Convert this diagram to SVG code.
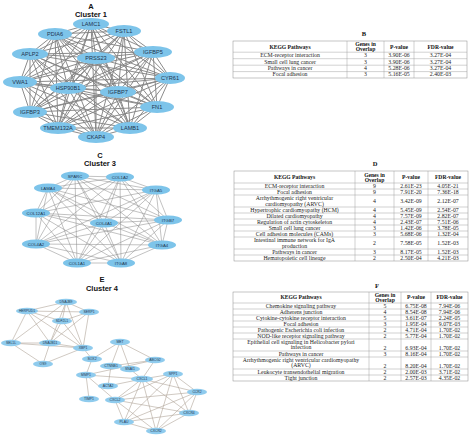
<svg xmlns="http://www.w3.org/2000/svg" width="474" height="437" viewBox="0 0 474 437">
<style>
.n1{fill:#7dc4ea}
.n3{fill:#7dc4ea}
.n4{fill:#8fcbed}
.t1{font-family:"Liberation Sans",Arial,sans-serif;font-size:5.6px;fill:#1f3550;text-anchor:middle}
.t3{font-family:"Liberation Sans",Arial,sans-serif;font-size:4.3px;fill:#1f3550;text-anchor:middle}
.t4{font-family:"Liberation Sans",Arial,sans-serif;font-size:3.4px;fill:#1f3550;text-anchor:middle}
.ttl{font-family:"Liberation Sans",Arial,sans-serif;font-size:7.5px;font-weight:bold;fill:#111;text-anchor:middle}
.e1{fill:none;stroke:#858585;stroke-width:0.95}
.e3{fill:none;stroke:#8f8f8f;stroke-width:0.55}
.e4{fill:none;stroke:#a89c90;stroke-width:0.55}
.tb{fill:#fff;stroke:#8a8a8a;stroke-width:0.5}
.gl{stroke:#9a9a9a;stroke-width:0.45}
.tx{font-family:"Liberation Serif","Times New Roman",serif;font-size:5.8px;fill:#222;text-anchor:middle}
.th{font-family:"Liberation Serif","Times New Roman",serif;font-size:5.6px;font-weight:bold;fill:#111;text-anchor:middle}
.lt{font-family:"Liberation Serif","Times New Roman",serif;font-size:6.5px;font-weight:bold;fill:#111;text-anchor:middle}
</style>
<rect width="474" height="437" fill="#fff"/>

<text class="ttl" x="91" y="9">A</text>
<text class="ttl" x="91" y="17">Cluster 1</text>
<text class="ttl" x="100" y="158">C</text>
<text class="ttl" x="100" y="166">Cluster 3</text>
<text class="ttl" x="102" y="282">E</text>
<text class="ttl" x="102" y="290.5">Cluster 4</text>

<g id="connectors">
<path class="e1" d="M91 24L124 31M91 24L55 34M91 24L30 54M91 24L96 58M91 24L153 52M91 24L170 78M91 24L20 82M91 24L68 88M91 24L118 92M91 24L157 107M91 24L30 112M91 24L58 128M91 24L130 128M91 24L96 137
M124 31L55 34M124 31L30 54M124 31L96 58M124 31L153 52M124 31L170 78M124 31L20 82M124 31L68 88M124 31L118 92M124 31L157 107M124 31L30 112M124 31L58 128M124 31L130 128M124 31L96 137
M55 34L30 54M55 34L96 58M55 34L153 52M55 34L170 78M55 34L20 82M55 34L68 88M55 34L118 92M55 34L157 107M55 34L30 112M55 34L58 128M55 34L130 128M55 34L96 137
M30 54L96 58M30 54L153 52M30 54L170 78M30 54L20 82M30 54L68 88M30 54L118 92M30 54L157 107M30 54L30 112M30 54L58 128M30 54L130 128M30 54L96 137
M96 58L153 52M96 58L170 78M96 58L20 82M96 58L68 88M96 58L118 92M96 58L157 107M96 58L30 112M96 58L58 128M96 58L130 128M96 58L96 137
M153 52L170 78M153 52L20 82M153 52L68 88M153 52L118 92M153 52L157 107M153 52L30 112M153 52L58 128M153 52L130 128M153 52L96 137
M170 78L20 82M170 78L68 88M170 78L118 92M170 78L157 107M170 78L30 112M170 78L58 128M170 78L130 128M170 78L96 137
M20 82L68 88M20 82L118 92M20 82L157 107M20 82L30 112M20 82L58 128M20 82L130 128M20 82L96 137
M68 88L118 92M68 88L157 107M68 88L30 112M68 88L58 128M68 88L130 128M68 88L96 137
M118 92L157 107M118 92L30 112M118 92L58 128M118 92L130 128M118 92L96 137
M157 107L30 112M157 107L58 128M157 107L130 128M157 107L96 137
M30 112L58 128M30 112L130 128M30 112L96 137M58 128L130 128M58 128L96 137M130 128L96 137"/>
<path class="e3" d="M75 176L120 177M75 176L48 188M75 176L156 190M75 176L36 213M75 176L104 223M75 176L168 220M75 176L36 244M75 176L162 245M75 176L77 263M75 176L121 263
M120 177L48 188M120 177L156 190M120 177L36 213M120 177L104 223M120 177L168 220M120 177L36 244M120 177L162 245M120 177L77 263M120 177L121 263
M48 188L156 190M48 188L36 213M48 188L104 223M48 188L168 220M48 188L36 244M48 188L162 245M48 188L77 263M48 188L121 263
M156 190L36 213M156 190L104 223M156 190L168 220M156 190L36 244M156 190L162 245M156 190L77 263M156 190L121 263
M36 213L104 223M36 213L168 220M36 213L36 244M36 213L162 245M36 213L77 263M36 213L121 263
M104 223L168 220M104 223L36 244M104 223L162 245M104 223L77 263M104 223L121 263
M168 220L36 244M168 220L162 245M168 220L77 263M168 220L121 263
M36 244L162 245M36 244L77 263M36 244L121 263M162 245L77 263M162 245L121 263M77 263L121 263"/>
<path class="e4" d="M27 311L66 302M27 311L89 312M27 311L62 321M27 311L11 343M27 311L50 343M27 311L83 348
M66 302L62 321M66 302L83 348M66 302L50 343M66 302L11 343M66 302L89 312
M89 312L62 321M89 312L83 348M89 312L50 343M62 321L50 343M62 321L83 348
M11 343L50 343M11 343L83 348M11 343L43 364M50 343L83 348M50 343L43 364M43 364L83 348M83 348L92 359
M120 342L92 359M120 342L111 366M120 342L130 369M120 342L155 360
M92 359L86 375M111 366L155 360M111 366L108 386M130 369L142 379M155 360L142 379M86 375L142 379M86 375L89 399M86 375L115 400M108 386L142 379M86 375L155 360
M142 379L173 374M142 379L197 392M142 379L189 413M142 379L124 422M142 379L156 431M142 379L115 400
M173 374L197 392M173 374L189 413M173 374L124 422M173 374L156 431M173 374L115 400
M197 392L189 413M197 392L124 422M197 392L156 431M197 392L115 400
M189 413L124 422M189 413L156 431M189 413L115 400M124 422L156 431M124 422L115 400M156 431L115 400"/>
</g>

<g id="cluster1">
<g id="n-LAMC1"><ellipse class="n1" cx="91" cy="24" rx="18" ry="6"/><text class="t1" x="91" y="26">LAMC1</text></g>
<g id="n-FSTL1"><ellipse class="n1" cx="124" cy="31" rx="17" ry="6"/><text class="t1" x="124" y="33">FSTL1</text></g>
<g id="n-PDIA6"><ellipse class="n1" cx="55" cy="34" rx="17" ry="6"/><text class="t1" x="55" y="36">PDIA6</text></g>
<g id="n-APLP2"><ellipse class="n1" cx="30" cy="54" rx="18" ry="6"/><text class="t1" x="30" y="56">APLP2</text></g>
<g id="n-PRSS23"><ellipse class="n1" cx="96" cy="58" rx="19" ry="6"/><text class="t1" x="96" y="60">PRSS23</text></g>
<g id="n-IGFBP5"><ellipse class="n1" cx="153" cy="52" rx="19" ry="6"/><text class="t1" x="153" y="54">IGFBP5</text></g>
<g id="n-CYR61"><ellipse class="n1" cx="170" cy="78" rx="15" ry="6"/><text class="t1" x="170" y="80">CYR61</text></g>
<g id="n-VWA1"><ellipse class="n1" cx="20" cy="82" rx="17" ry="6"/><text class="t1" x="20" y="84">VWA1</text></g>
<g id="n-HSP90B1"><ellipse class="n1" cx="68" cy="88" rx="18" ry="6"/><text class="t1" x="68" y="90">HSP90B1</text></g>
<g id="n-IGFBP7"><ellipse class="n1" cx="118" cy="92" rx="18" ry="6"/><text class="t1" x="118" y="94">IGFBP7</text></g>
<g id="n-FN1"><ellipse class="n1" cx="157" cy="107" rx="17" ry="6"/><text class="t1" x="157" y="109">FN1</text></g>
<g id="n-IGFBP3"><ellipse class="n1" cx="30" cy="112" rx="17" ry="6"/><text class="t1" x="30" y="114">IGFBP3</text></g>
<g id="n-TMEM132A"><ellipse class="n1" cx="58" cy="128" rx="18" ry="6"/><text class="t1" x="58" y="130">TMEM132A</text></g>
<g id="n-LAMB1"><ellipse class="n1" cx="130" cy="128" rx="17" ry="6"/><text class="t1" x="130" y="130">LAMB1</text></g>
<g id="n-CKAP4"><ellipse class="n1" cx="96" cy="137" rx="18" ry="6"/><text class="t1" x="96" y="139">CKAP4</text></g>
</g>

<g id="cluster3">
<g id="n-SPARC"><ellipse class="n3" cx="75" cy="176" rx="14" ry="4.6"/><text class="t3" x="75" y="177.5">SPARC</text></g>
<g id="n-COL1A2"><ellipse class="n3" cx="120" cy="177" rx="14" ry="4.6"/><text class="t3" x="120" y="178.5">COL1A2</text></g>
<g id="n-LAMA4"><ellipse class="n3" cx="48" cy="188" rx="14" ry="4.6"/><text class="t3" x="48" y="189.5">LAMA4</text></g>
<g id="n-ITGA5"><ellipse class="n3" cx="156" cy="190" rx="14" ry="4.6"/><text class="t3" x="156" y="191.5">ITGA5</text></g>
<g id="n-COL12A1"><ellipse class="n3" cx="36" cy="213" rx="14" ry="4.6"/><text class="t3" x="36" y="214.5">COL12A1</text></g>
<g id="n-COL4A1"><ellipse class="n3" cx="104" cy="223" rx="14" ry="4.6"/><text class="t3" x="104" y="224.5">COL4A1</text></g>
<g id="n-ITGB7"><ellipse class="n3" cx="168" cy="220" rx="14" ry="4.6"/><text class="t3" x="168" y="221.5">ITGB7</text></g>
<g id="n-COL4A2"><ellipse class="n3" cx="36" cy="244" rx="14" ry="4.6"/><text class="t3" x="36" y="245.5">COL4A2</text></g>
<g id="n-ITGA4"><ellipse class="n3" cx="162" cy="245" rx="14" ry="4.6"/><text class="t3" x="162" y="246.5">ITGA4</text></g>
<g id="n-COL1A1"><ellipse class="n3" cx="77" cy="263" rx="14" ry="4.6"/><text class="t3" x="77" y="264.5">COL1A1</text></g>
<g id="n-ITGA8"><ellipse class="n3" cx="121" cy="263" rx="14" ry="4.6"/><text class="t3" x="121" y="264.5">ITGA8</text></g>
</g>

<g id="cluster4">
<g id="n-DNAJB9"><ellipse class="n4" cx="66" cy="302" rx="11" ry="3.3"/><text class="t4" x="66" y="303.2">DNAJB9</text></g>
<g id="n-HERPUD1"><ellipse class="n4" cx="27" cy="311" rx="11" ry="3.3"/><text class="t4" x="27" y="312.2">HERPUD1</text></g>
<g id="n-SERP1"><ellipse class="n4" cx="89" cy="312" rx="10" ry="3.3"/><text class="t4" x="89" y="313.2">SERP1</text></g>
<g id="n-SDF2L1"><ellipse class="n4" cx="62" cy="321" rx="10" ry="3.3"/><text class="t4" x="62" y="322.2">SDF2L1</text></g>
<g id="n-SEL1L"><ellipse class="n4" cx="11" cy="343" rx="10" ry="3.3"/><text class="t4" x="11" y="344.2">SEL1L</text></g>
<g id="n-DNAJB11"><ellipse class="n4" cx="50" cy="343" rx="11" ry="3.3"/><text class="t4" x="50" y="344.2">DNAJB11</text></g>
<g id="n-XBP1"><ellipse class="n4" cx="83" cy="348" rx="10" ry="3.3"/><text class="t4" x="83" y="349.2">XBP1</text></g>
<g id="n-OS9"><ellipse class="n4" cx="43" cy="364" rx="10" ry="3.3"/><text class="t4" x="43" y="365.2">OS9</text></g>
<g id="n-MET"><ellipse class="n4" cx="120" cy="342" rx="10" ry="3.3"/><text class="t4" x="120" y="343.2">MET</text></g>
<g id="n-SOX2"><ellipse class="n4" cx="92" cy="359" rx="10" ry="3.3"/><text class="t4" x="92" y="360.2">SOX2</text></g>
<g id="n-CTNNB1"><ellipse class="n4" cx="111" cy="366" rx="11" ry="3.3"/><text class="t4" x="111" y="367.2">CTNNB1</text></g>
<g id="n-SNAI1"><ellipse class="n4" cx="130" cy="369" rx="10" ry="3.3"/><text class="t4" x="130" y="370.2">SNAI1</text></g>
<g id="n-ABCG2"><ellipse class="n4" cx="155" cy="360" rx="10" ry="3.3"/><text class="t4" x="155" y="361.2">ABCG2</text></g>
<g id="n-MMP1"><ellipse class="n4" cx="86" cy="375" rx="10" ry="3.3"/><text class="t4" x="86" y="376.2">MMP1</text></g>
<g id="n-CXCL1"><ellipse class="n4" cx="142" cy="379" rx="11" ry="3.3"/><text class="t4" x="142" y="380.2">CXCL1</text></g>
<g id="n-SPP1"><ellipse class="n4" cx="173" cy="374" rx="10" ry="3.3"/><text class="t4" x="173" y="375.2">SPP1</text></g>
<g id="n-ACTA2"><ellipse class="n4" cx="108" cy="386" rx="10" ry="3.3"/><text class="t4" x="108" y="387.2">ACTA2</text></g>
<g id="n-TIMP1"><ellipse class="n4" cx="89" cy="399" rx="10" ry="3.3"/><text class="t4" x="89" y="400.2">TIMP1</text></g>
<g id="n-CXCL2"><ellipse class="n4" cx="115" cy="400" rx="10" ry="3.3"/><text class="t4" x="115" y="401.2">CXCL2</text></g>
<g id="n-CCR2"><ellipse class="n4" cx="197" cy="392" rx="10" ry="3.3"/><text class="t4" x="197" y="393.2">CCR2</text></g>
<g id="n-CXCR4"><ellipse class="n4" cx="189" cy="413" rx="10" ry="3.3"/><text class="t4" x="189" y="414.2">CXCR4</text></g>
<g id="n-PLAU"><ellipse class="n4" cx="124" cy="422" rx="10" ry="3.3"/><text class="t4" x="124" y="423.2">PLAU</text></g>
<g id="n-CXCR2"><ellipse class="n4" cx="156" cy="431" rx="10" ry="3.3"/><text class="t4" x="156" y="432.2">CXCR2</text></g>
</g>

<g id="tableB">
<text class="lt" x="364" y="36">B</text>
<rect class="tb" x="233" y="41" width="234" height="37"/>
<path class="gl" d="M233 52.2H467M233 58.7H467M233 65.2H467M233 71.6H467M347 41V78M384 41V78M414 41V78"/>
<text class="th" x="290" y="48.5">KEGG Pathways</text>
<text class="th" x="365.5" y="46">Genes in</text>
<text class="th" x="365.5" y="50.8">Overlap</text>
<text class="th" x="399" y="48.5">P-value</text>
<text class="th" x="440.5" y="48.5">FDR-value</text>
<text class="tx" x="290" y="57">ECM-receptor interaction</text><text class="tx" x="365.5" y="57">3</text><text class="tx" x="399" y="57">3.90E-06</text><text class="tx" x="440.5" y="57">3.27E-04</text>
<text class="tx" x="290" y="63.5">Small cell lung cancer</text><text class="tx" x="365.5" y="63.5">3</text><text class="tx" x="399" y="63.5">3.90E-06</text><text class="tx" x="440.5" y="63.5">3.27E-04</text>
<text class="tx" x="290" y="70">Pathways in cancer</text><text class="tx" x="365.5" y="70">4</text><text class="tx" x="399" y="70">5.28E-06</text><text class="tx" x="440.5" y="70">3.27E-04</text>
<text class="tx" x="290" y="76.4">Focal adhesion</text><text class="tx" x="365.5" y="76.4">3</text><text class="tx" x="399" y="76.4">5.16E-05</text><text class="tx" x="440.5" y="76.4">2.40E-03</text>
</g>

<g id="tableD">
<text class="lt" x="375" y="166">D</text>
<rect class="tb" x="234" y="171" width="234" height="90"/>
<path class="gl" d="M234 183H468M234 189H468M234 195H468M234 207H468M234 213H468M234 219H468M234 225H468M234 231H468M234 237H468M234 249H468M234 255H468M355 171V261M394 171V261M428 171V261"/>
<text class="th" x="294.5" y="178.8">KEGG Pathways</text>
<text class="th" x="374.5" y="176.5">Genes in</text>
<text class="th" x="374.5" y="181.5">Overlap</text>
<text class="th" x="411" y="178.8">P-value</text>
<text class="th" x="448" y="178.8">FDR-value</text>
<text class="tx" x="294.5" y="187.8">ECM-receptor interaction</text><text class="tx" x="374.5" y="187.8">9</text><text class="tx" x="411" y="187.8">2.61E-23</text><text class="tx" x="448" y="187.8">4.05E-21</text>
<text class="tx" x="294.5" y="193.8">Focal adhesion</text><text class="tx" x="374.5" y="193.8">9</text><text class="tx" x="411" y="193.8">7.91E-20</text><text class="tx" x="448" y="193.8">7.36E-18</text>
<text class="tx" x="294.5" y="199.8">Arrhythmogenic right ventricular</text><text class="tx" x="294.5" y="205.5">cardiomyopathy (ARVC)</text><text class="tx" x="374.5" y="202.8">4</text><text class="tx" x="411" y="202.8">3.42E-09</text><text class="tx" x="448" y="202.8">2.12E-07</text>
<text class="tx" x="294.5" y="211.8">Hypertrophic cardiomyopathy (HCM)</text><text class="tx" x="374.5" y="211.8">4</text><text class="tx" x="411" y="211.8">5.45E-09</text><text class="tx" x="448" y="211.8">2.54E-07</text>
<text class="tx" x="294.5" y="217.8">Dilated cardiomyopathy</text><text class="tx" x="374.5" y="217.8">4</text><text class="tx" x="411" y="217.8">7.57E-09</text><text class="tx" x="448" y="217.8">2.82E-07</text>
<text class="tx" x="294.5" y="223.8">Regulation of actin cytoskeleton</text><text class="tx" x="374.5" y="223.8">4</text><text class="tx" x="411" y="223.8">2.43E-07</text><text class="tx" x="448" y="223.8">7.51E-06</text>
<text class="tx" x="294.5" y="229.8">Small cell lung cancer</text><text class="tx" x="374.5" y="229.8">3</text><text class="tx" x="411" y="229.8">1.42E-06</text><text class="tx" x="448" y="229.8">3.78E-05</text>
<text class="tx" x="294.5" y="235.8">Cell adhesion molecules (CAMs)</text><text class="tx" x="374.5" y="235.8">3</text><text class="tx" x="411" y="235.8">5.68E-06</text><text class="tx" x="448" y="235.8">1.32E-04</text>
<text class="tx" x="294.5" y="241.8">Intestinal immune network for IgA</text><text class="tx" x="294.5" y="247.5">production</text><text class="tx" x="374.5" y="244.8">2</text><text class="tx" x="411" y="244.8">7.58E-05</text><text class="tx" x="448" y="244.8">1.52E-03</text>
<text class="tx" x="294.5" y="253.8">Pathways in cancer</text><text class="tx" x="374.5" y="253.8">3</text><text class="tx" x="411" y="253.8">8.17E-05</text><text class="tx" x="448" y="253.8">1.52E-03</text>
<text class="tx" x="294.5" y="259.8">Hematopoietic cell lineage</text><text class="tx" x="374.5" y="259.8">2</text><text class="tx" x="411" y="259.8">2.50E-04</text><text class="tx" x="448" y="259.8">4.21E-03</text>
</g>

<g id="tableF">
<text class="lt" x="377" y="288">F</text>
<rect class="tb" x="233" y="292" width="235" height="89"/>
<path class="gl" d="M233 303H468M233 309H468M233 315H468M233 321H468M233 327H468M233 333H468M233 339H468M233 351H468M233 357H468M233 369H468M233 375H468M369 292V381M401 292V381M431 292V381"/>
<text class="th" x="301" y="299">KEGG Pathways</text>
<text class="th" x="385" y="296.8">Genes in</text>
<text class="th" x="385" y="301.6">Overlap</text>
<text class="th" x="416" y="299">P-value</text>
<text class="th" x="449.5" y="299">FDR-value</text>
<text class="tx" x="301" y="307.8">Chemokine signaling pathway</text><text class="tx" x="385" y="307.8">5</text><text class="tx" x="416" y="307.8">6.75E-08</text><text class="tx" x="449.5" y="307.8">7.94E-06</text>
<text class="tx" x="301" y="313.8">Adherens junction</text><text class="tx" x="385" y="313.8">4</text><text class="tx" x="416" y="313.8">8.54E-08</text><text class="tx" x="449.5" y="313.8">7.94E-06</text>
<text class="tx" x="301" y="319.8">Cytokine-cytokine receptor interaction</text><text class="tx" x="385" y="319.8">5</text><text class="tx" x="416" y="319.8">3.61E-07</text><text class="tx" x="449.5" y="319.8">2.24E-05</text>
<text class="tx" x="301" y="325.8">Focal adhesion</text><text class="tx" x="385" y="325.8">3</text><text class="tx" x="416" y="325.8">1.95E-04</text><text class="tx" x="449.5" y="325.8">9.07E-03</text>
<text class="tx" x="301" y="331.8">Pathogenic Escherichia coli infection</text><text class="tx" x="385" y="331.8">2</text><text class="tx" x="416" y="331.8">4.71E-04</text><text class="tx" x="449.5" y="331.8">1.70E-02</text>
<text class="tx" x="301" y="337.8">NOD-like receptor signaling pathway</text><text class="tx" x="385" y="337.8">2</text><text class="tx" x="416" y="337.8">5.77E-04</text><text class="tx" x="449.5" y="337.8">1.70E-02</text>
<text class="tx" x="301" y="343.6">Epithelial cell signaling in Helicobacter pylori</text><text class="tx" x="301" y="349.3">infection</text><text class="tx" x="385" y="349.6">2</text><text class="tx" x="416" y="349.6">6.93E-04</text><text class="tx" x="449.5" y="349.6">1.70E-02</text>
<text class="tx" x="301" y="355.8">Pathways in cancer</text><text class="tx" x="385" y="355.8">3</text><text class="tx" x="416" y="355.8">8.16E-04</text><text class="tx" x="449.5" y="355.8">1.70E-02</text>
<text class="tx" x="301" y="361.6">Arrhythmogenic right ventricular cardiomyopathy</text><text class="tx" x="301" y="367.3">(ARVC)</text><text class="tx" x="385" y="367.6">2</text><text class="tx" x="416" y="367.6">8.20E-04</text><text class="tx" x="449.5" y="367.6">1.70E-02</text>
<text class="tx" x="301" y="373.8">Leukocyte transendothelial migration</text><text class="tx" x="385" y="373.8">2</text><text class="tx" x="416" y="373.8">2.00E-03</text><text class="tx" x="449.5" y="373.8">3.71E-02</text>
<text class="tx" x="301" y="379.8">Tight junction</text><text class="tx" x="385" y="379.8">2</text><text class="tx" x="416" y="379.8">2.57E-03</text><text class="tx" x="449.5" y="379.8">4.35E-02</text>
</g>
</svg>
